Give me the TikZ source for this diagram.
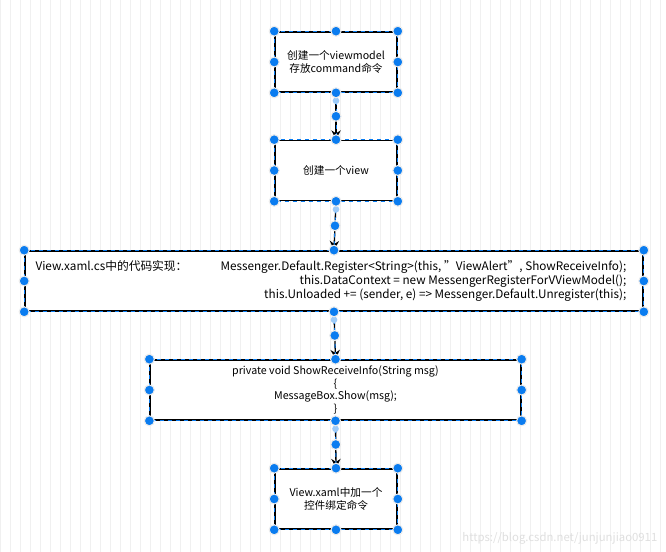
\documentclass[tikz,border=0pt]{standalone}
\usepackage{fontspec}
\setmainfont{Noto Sans CJK SC}
\usetikzlibrary{arrows.meta,calc}
\definecolor{hb}{HTML}{0A7CF0}
\begin{document}
\begin{tikzpicture}[x=0.75pt,y=-0.75pt,
  box/.style={draw=black,line width=1.2pt,fill=white,inner sep=0pt,font=\fontsize{8}{9.5}\selectfont,align=center,minimum height=45pt},
  sel/.style={draw=hb,dash pattern=on 3pt off 3pt,line width=0.7pt},
  hd/.style={circle,fill=hb,draw=white!85!gray,line width=0.8pt,minimum size=7.5pt,inner sep=0pt},
  hs/.style={circle,fill=hb!40,inner sep=0pt,minimum size=5pt},
  con/.style={draw=black,line width=1pt,-{Stealth[length=7pt,width=7pt]}}]
\useasboundingbox (0,0) rectangle (666,552);
\fill[white] (0,0) rectangle (666,552);
\draw[gray!12,line width=0.4pt] (0,0) grid[step=10] (666,552);
\node[box,minimum width=91.5pt] (a) at (336,62) {创建一个viewmodel\\存放command命令};
\node[box,minimum width=91.5pt] (b) at (336,170.5) {创建一个view};
\node[box,minimum width=463.5pt] (c) at (334,281) {};
\node[box,minimum width=278pt] (d) at (335.5,390) {private void ShowReceiveInfo(String msg)\\\{\\MessageBox.Show(msg);\\\}};
\node[box,minimum width=91.5pt] (e) at (336,499) {View.xaml中加一个\\控件绑定命令};
\foreach \n in {a,b,c,d,e}{\draw[sel] (\n.north west) rectangle (\n.south east);}
\node[font=\fontsize{8.8}{10.5}\selectfont,align=right,anchor=east] (ct) at (631,281) {View.xaml.cs中的代码实现：\hspace{2.6em} Messenger.Default.Register<String>(this, \symbol{34}ViewAlert\symbol{34}, ShowReceiveInfo);\\this.DataContext = new MessengerRegisterForVViewModel();\\this.Unloaded += (sender, e) => Messenger.Default.Unregister(this);};
\foreach \u/\v in {a/b,b/c,c/d,d/e}{
  \draw[con] (\u.south) -- (\v.north);
  \draw[sel] (\u.south) -- (\v.north);
  \node[hs] at ($(\u.south)+(0,8)$) {};
  \node[hd] at ($(\u.south)!0.5!(\v.north)$) {};
}
\foreach \n in {a,b,c,d,e}{
  \foreach \p in {north west,north,north east,west,east,south west,south,south east}{
    \node[hd] at (\n.\p) {};}}
\node[text=gray!25,font=\fontsize{8.5}{10}\selectfont,anchor=south east] (wm) at (662,549) {https://blog.csdn.net/junjunjiao0911};
\end{tikzpicture}
\end{document}
